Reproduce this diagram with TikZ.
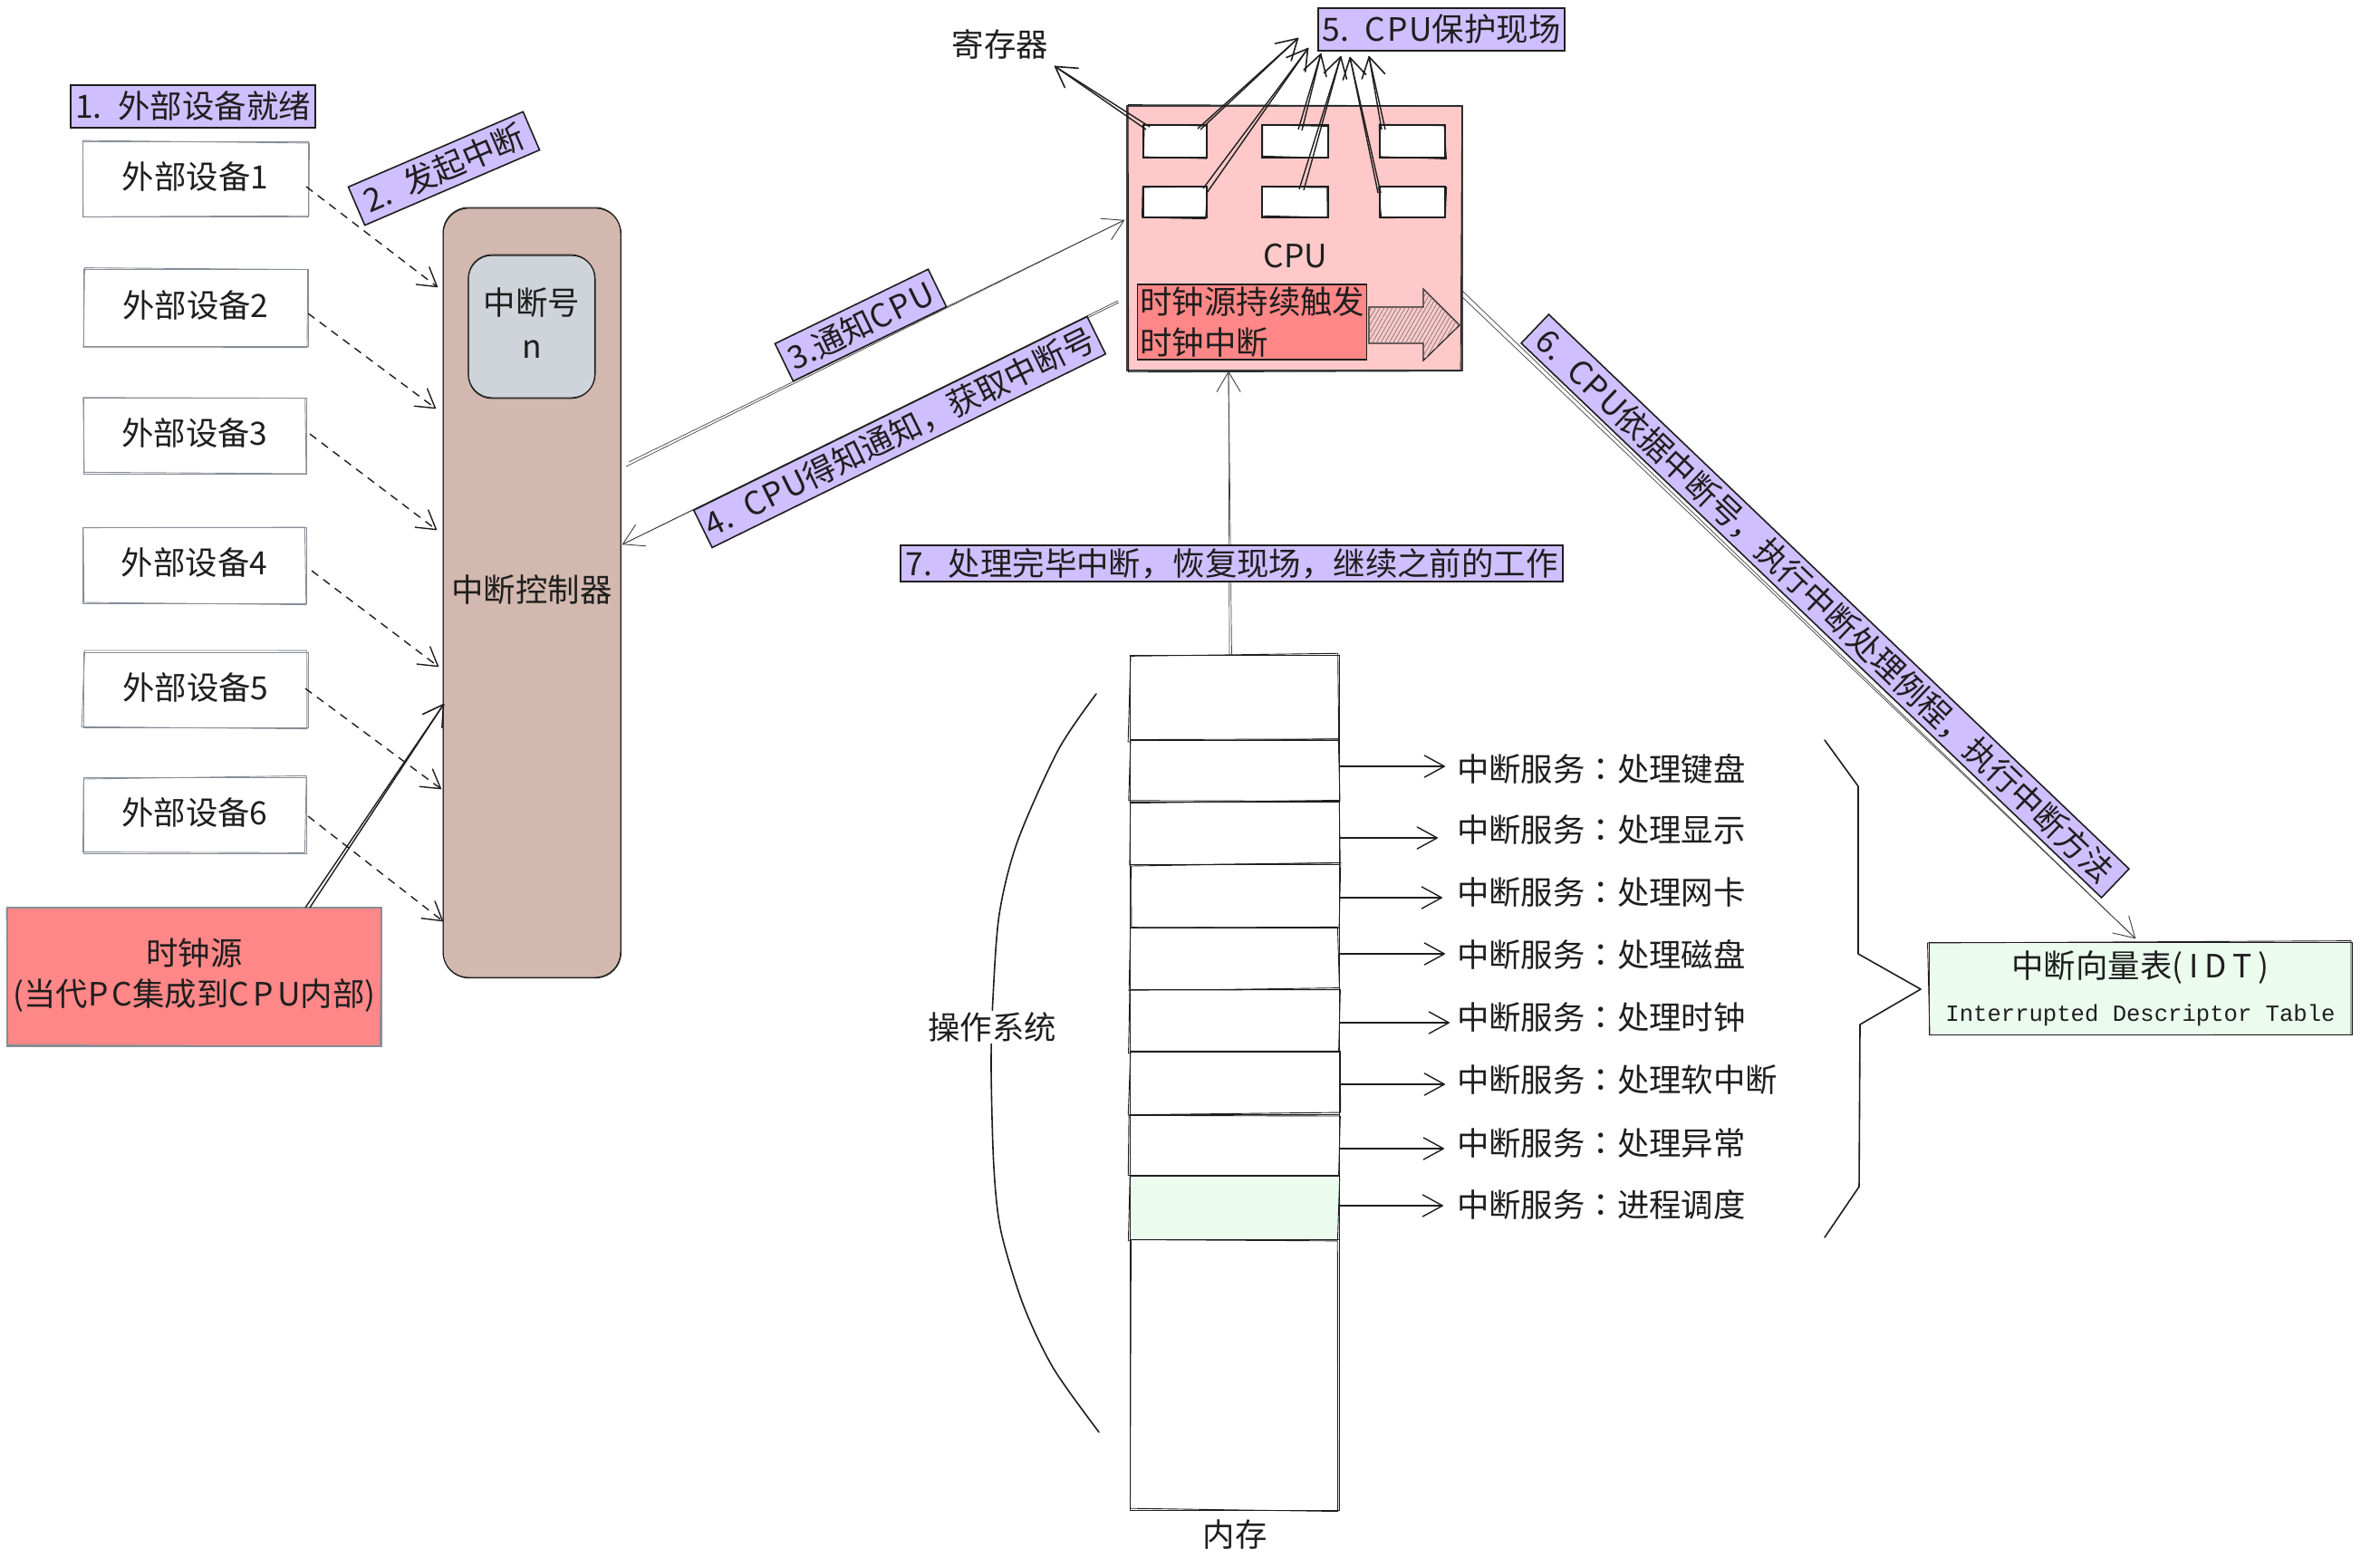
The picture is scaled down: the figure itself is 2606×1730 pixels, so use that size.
\documentclass[tikz,border=0pt]{standalone}
\usepackage{fontspec}
\setmainfont{Noto Sans CJK SC}
\newfontfamily\tcfont{Noto Sans CJK TC}
\newfontfamily\monof{Liberation Mono}
\newfontfamily\latinw[LetterSpace=5]{Noto Sans CJK SC}
\newfontfamily\latinc[LetterSpace=12]{Noto Sans CJK SC}
\newfontfamily\latinx[LetterSpace=20]{Noto Sans CJK SC}
\usetikzlibrary{arrows.meta,patterns.meta}
\definecolor{ink}{HTML}{1E1E1E}
\definecolor{lav}{HTML}{CFBFFF}
\definecolor{cpupink}{HTML}{FFC9C9}
\definecolor{clockred}{HTML}{FF8787}
\definecolor{ctlbrown}{HTML}{D2B8AE}
\definecolor{nfill}{HTML}{CED4DA}
\definecolor{mint}{HTML}{EBFBEE}
\definecolor{edgegray}{HTML}{868E96}
\newcommand{\txtfont}{\fontsize{17.7}{22.5}\selectfont}
\newcommand{\colonz}{{\tcfont ：}}
\newcommand{\gp}{\hspace{9pt}}
\newcommand{\cpuw}{{\latinw CPU}}
\tikzset{
  every node/.style={font=\txtfont,text=ink},
  base/.style={rectangle,inner sep=0pt,outer sep=0pt,align=center},
  devbox/.style={base,draw=edgegray,line width=0.5pt,fill=white,text depth=4pt},
  clockbox/.style={base,draw=edgegray,line width=0.6pt,fill=clockred,text depth=5pt},
  ctlbox/.style={base,draw=ink,line width=0.5pt,fill=ctlbrown,rounded corners=14pt,text depth=4pt},
  nbox/.style={base,draw=ink,line width=0.5pt,fill=nfill,rounded corners=13pt,text depth=4pt},
  cpubox/.style={base,draw=ink!85,line width=0.6pt,fill=cpupink},
  regbox/.style={base,draw=ink,line width=0.6pt,fill=white},
  redbox/.style={base,draw=ink,line width=0.7pt,fill=clockred},
  membox/.style={base,draw=ink,line width=0.5pt,fill=white},
  greenbox/.style={base,draw=ink,line width=0.5pt,fill=mint},
  idtbox/.style={base,draw=ink,line width=0.5pt,fill=mint},
  lab/.style={base,draw=ink,line width=0.8pt,fill=lav},
  plain/.style={base,fill=none},
  stroketwo/.style={draw=#1,line width=0.45pt,line join=round},
  dasharrow/.style={draw=ink,line width=0.7pt,dash pattern=on 4.5pt off 3.5pt,-{Straight Barb[length=10pt,width=12pt,line width=0.7pt,round]}},
  strong/.style={draw=ink,line width=0.7pt,-{Straight Barb[length=11pt,width=13pt,line width=0.8pt,round]}},
  weak/.style={draw=ink!85,line width=0.35pt,-{Straight Barb[length=11pt,width=13pt,line width=0.45pt,round]}},
  svc/.style={draw=ink,line width=0.9pt,-{Straight Barb[length=11pt,width=12pt,line width=0.7pt,round]}},
  brace/.style={draw=ink,line width=0.8pt,line join=round,line cap=round}
}
% [options]{name}{style}{x1}{y1}{x2}{y2}{text}
\newcommand{\bx}[8][]{\node[#3,minimum width={(#6-#4)*0.5pt},minimum height={(#7-#5)*0.5pt},#1] (#2) at ({(#4+#6)/2},{(#5+#7)/2}) {#8};}
% second, slightly displaced outline of a box: {name}{colour}{amplitude}
\newcommand{\sk}[3]{\draw[stroketwo=#2] ([shift={(#3*rand,#3*rand)}]#1.north west) -- ([shift={(#3*rand,#3*rand)}]#1.north east) -- ([shift={(#3*rand,#3*rand)}]#1.south east) -- ([shift={(#3*rand,#3*rand)}]#1.south west) -- cycle;}
\newcommand{\skr}[4]{\draw[stroketwo=#2,rounded corners=#4] ([shift={(#3*rand,#3*rand)}]#1.north west) rectangle ([shift={(#3*rand,#3*rand)}]#1.south east);}
% {from}{to}{style}{offset of the second stroke at its start}
\newcommand{\twostroke}[4]{\draw[#3] #1 -- #2; \draw[#3,-] #1 ++(#4) -- #2;}
\pgfmathsetseed{7}
\begin{document}
\begin{tikzpicture}[x=0.5pt,y=-0.5pt]
\useasboundingbox (0,0) rectangle (2606,1730);
\fill[white] (0,0) rectangle (2606,1730);

% left column
\bx{dev1}{devbox}{91}{156}{340}{239}{外部设备1}\sk{dev1}{edgegray}{2}
\bx{dev2}{devbox}{92}{297}{340}{382}{外部设备2}\sk{dev2}{edgegray}{2}
\bx{dev3}{devbox}{92}{439}{338}{523}{外部设备3}\sk{dev3}{edgegray}{2}
\bx{dev4}{devbox}{91}{582}{338}{666}{外部设备4}\sk{dev4}{edgegray}{2}
\bx{dev5}{devbox}{92}{720}{340}{803}{外部设备5}\sk{dev5}{edgegray}{2}
\bx{dev6}{devbox}{92}{858}{338}{942}{外部设备6}\sk{dev6}{edgegray}{2}
\bx{clock}{clockbox}{8}{1002}{421}{1155}{时钟源\\{\latinc (}当代{\latinc PC}集成到{\latinc CPU}内部{\latinc )}}\sk{clock}{edgegray}{2}
\bx{ctl}{ctlbox}{489}{229}{685}{1079}{中断控制器}\skr{ctl}{ink}{1.5}{14pt}
\bx[font=\fontsize{17.7}{24}\selectfont]{nb}{nbox}{517}{282}{657}{439}{中断号\\n}\skr{nb}{ink}{1.5}{13pt}

% CPU
\bx{cpu}{cpubox}{1244}{117}{1614}{409}{}\sk{cpu}{ink}{2}
\foreach \nm/\xa/\ya/\xb/\yb in {r1/1262/138/1332/174,r2/1393/138/1466/174,r3/1523/138/1595/174,r4/1262/206/1332/240,r5/1393/206/1466/240,r6/1523/206/1595/240}{
  \bx{\nm}{regbox}{\xa}{\ya}{\xb}{\yb}{}\sk{\nm}{ink}{1.8}
}
\node[plain] (cputxt) at (1430,283) {CPU};
\bx[inner xsep=1.5pt,text width=123.5pt,align=left]{tick}{redbox}{1256}{314}{1508}{397}{时钟源持续触发\\时钟中断}
\draw[draw=ink,line width=0.6pt,fill=cpupink] (1511,339) -- (1571,339) -- (1571,319) -- (1611,359) -- (1571,398) -- (1571,379) -- (1511,379) -- cycle;
\fill[pattern={Lines[angle=60,distance=2pt,line width=0.35pt]},pattern color=ink!60] (1511,339) -- (1571,339) -- (1571,319) -- (1611,359) -- (1571,398) -- (1571,379) -- (1511,379) -- cycle;

% memory
\bx{m0}{membox}{1247}{723}{1478}{817}{}\sk{m0}{ink}{2}
\bx{m1}{membox}{1247}{817}{1478}{885}{}\sk{m1}{ink}{2}
\bx{m2}{membox}{1247}{885}{1478}{954}{}\sk{m2}{ink}{2}
\bx{m3}{membox}{1247}{954}{1478}{1024}{}\sk{m3}{ink}{2}
\bx{m4}{membox}{1247}{1024}{1478}{1092}{}\sk{m4}{ink}{2}
\bx{m5}{membox}{1247}{1092}{1478}{1161}{}\sk{m5}{ink}{2}
\bx{m6}{membox}{1247}{1161}{1478}{1230}{}\sk{m6}{ink}{2}
\bx{m7}{membox}{1247}{1230}{1478}{1298}{}\sk{m7}{ink}{2}
\bx{m8}{greenbox}{1247}{1298}{1478}{1368}{}\sk{m8}{ink}{2}
\bx{m9}{membox}{1247}{1368}{1478}{1667}{}\sk{m9}{ink}{2}
\node[plain] (memtxt) at (1363,1694) {内存};

% service labels
\node[plain,anchor=west] (s1) at (1608,849) {中断服务\colonz 处理键盘};
\node[plain,anchor=west] (s2) at (1608,916) {中断服务\colonz 处理显示};
\node[plain,anchor=west] (s3) at (1608,985) {中断服务\colonz 处理网卡};
\node[plain,anchor=west] (s4) at (1608,1054) {中断服务\colonz 处理磁盘};
\node[plain,anchor=west] (s5) at (1608,1123) {中断服务\colonz 处理时钟};
\node[plain,anchor=west] (s6) at (1608,1192) {中断服务\colonz 处理软中断};
\node[plain,anchor=west] (s7) at (1608,1262) {中断服务\colonz 处理异常};
\node[plain,anchor=west] (s8) at (1608,1330) {中断服务\colonz 进程调度};
\draw[svc,line width=1.1pt] ([yshift=2.5pt]m1.east) -- ([shift={(-13,-3)}]s1.west);
\draw[svc,line width=0.6pt] ([yshift=-2.75pt]m2.east) -- ([shift={(-21,9)}]s2.west);
\draw[svc] ([yshift=-1pt]m3.east) -- ([shift={(-16,6)}]s3.west);
\draw[svc] ([yshift=2.5pt]m4.east) -- ([shift={(-13,-1)}]s4.west);
\draw[svc,line width=0.55pt] ([yshift=-1.25pt]m5.east) -- ([shift={(-8,6)}]s5.west);
\draw[svc,line width=1.2pt] ([yshift=-0.75pt]m6.east) -- ([shift={(-13,5)}]s6.west);
\draw[svc,line width=1.2pt] ([yshift=-2pt]m7.east) -- ([shift={(-14,6)}]s7.west);
\draw[svc,line width=0.75pt] ([yshift=1pt]m8.east) -- ([shift={(-15,1)}]s8.west);

% IDT
\bx{idt}{idtbox}{2129}{1040}{2596}{1142}{\raisebox{1pt}{中断向量表{\latinx (IDT)}}\\[3pt]\raisebox{2.5pt}{\monof\fontsize{12.8}{16}\selectfont Interrupted Descriptor Table}}\sk{idt}{ink}{2}

% register text and labels targets
\node[plain] (reg) at (1104,49) {寄存器};
\bx{lab5}{lab}{1455}{9}{1727}{56}{5.\gp\cpuw 保护现场}

% device connectors
\draw[dasharrow] ([shift={(-2,8.5)}]dev1.east) -- ([shift={(-6,-337)}]ctl.west);
\draw[dasharrow] ([shift={(0,6.5)}]dev2.east) -- ([shift={(-8,-203)}]ctl.west);
\draw[dasharrow] ([shift={(4,-2)}]dev3.east) -- ([shift={(-7,-69)}]ctl.west);
\draw[dasharrow] ([shift={(6,6)}]dev4.east) -- ([shift={(-5,82)}]ctl.west);
\draw[dasharrow] ([shift={(-3,-1.5)}]dev5.east) -- ([shift={(-2,217)}]ctl.west);
\draw[dasharrow] ([shift={(2,1)}]dev6.east) -- ([shift={(0,363)}]ctl.west);
\twostroke{([shift={(122.5,0)}]clock.north)}{([shift={(1,123)}]ctl.west)}{strong}{5,0}

% register arrows
\twostroke{([shift={(-32,5)}]r1.north)}{([shift={(60,24)}]reg.center)}{strong}{4,-3}
\twostroke{([shift={(28,5)}]r1.north)}{([shift={(-158,9.5)}]lab5.center)}{strong}{-3,-1}
\twostroke{([shift={(31,2)}]r4.north)}{([shift={(-147,20.5)}]lab5.center)}{strong}{4,5}
\twostroke{([shift={(3.5,5)}]r2.north)}{([shift={(-133,26.5)}]lab5.center)}{strong}{4,1}
\twostroke{([shift={(9.5,4)}]r5.north)}{([shift={(-111,29.5)}]lab5.center)}{strong}{-5,-1}
\twostroke{([shift={(-35,7)}]r6.north)}{([shift={(-101,30.5)}]lab5.center)}{strong}{-3,0}
\twostroke{([shift={(-30,5)}]r3.north)}{([shift={(-80,29.5)}]lab5.center)}{strong}{-4,0}

% main connectors
\twostroke{([shift={(6,-139)}]ctl.east)}{([shift={(-3,-20)}]cpu.west)}{weak}{3,-5}
\twostroke{([shift={(-10,69)}]cpu.west)}{([shift={(2,-53)}]ctl.east)}{weak}{1,2}
\twostroke{([shift={(-1,64)}]cpu.east)}{([shift={(-5.5,-4)}]idt.north)}{weak}{1,-6}
\twostroke{([shift={(-5.5,0)}]m0.north)}{([shift={(-73,1)}]cpu.south)}{weak}{2.5,0}

% braces
\draw[brace] plot[smooth,tension=0.5] coordinates {(1210,766) (1168,828) (1123,929) (1103,1009) (1096,1102) (1094,1179) (1097,1289) (1105,1360) (1130,1442) (1163,1511) (1213,1581)};
\node[plain,fill=white,inner xsep=1pt,inner ysep=1pt] (ostxt) at (1095,1134) {操作系统};
\draw[brace] (2014,817) -- (2051,868) -- (2051,1053) -- (2120,1092) -- (2053,1131) -- (2052,1310) -- (2014,1366);

% step labels
\bx{lab1}{lab}{78}{94}{348}{141}{1.\gp 外部设备就绪}
\node[lab,minimum width=105pt,minimum height=23pt,rotate=23.3] (lab2) at (490,186) {2.\gp 发起中断};
\node[lab,minimum width=94pt,minimum height=23pt,rotate=25.9] (lab3) at (950,359) {3.通知\cpuw};
\node[lab,minimum width=242pt,minimum height=23pt,rotate=26.2] (lab4) at (993,477) {4.\gp\cpuw 得知通知，获取中断号};
\node[lab,minimum width=443pt,minimum height=22pt,rotate=-43.7] (lab6) at (2014.5,669) {6.\gp\cpuw 依据中断号，执行中断处理例程，执行中断方法};
\bx{lab7}{lab}{994}{602}{1725}{642}{7.\gp 处理完毕中断，恢复现场，继续之前的工作}
\end{tikzpicture}
\end{document}
